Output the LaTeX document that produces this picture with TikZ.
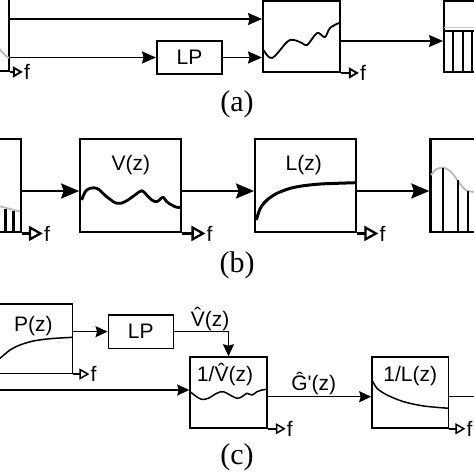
\documentclass[tikz,border=0pt]{standalone}
\usepackage{fontspec}
\setmainfont{Liberation Sans}
\newfontfamily\capfont{Liberation Serif}
\usetikzlibrary{arrows.meta,positioning}

\tikzset{
  blk/.style={draw, line width=1.9pt, inner sep=0pt},
  blkb/.style={draw, line width=2.3pt, inner sep=0pt},
  blkc/.style={draw, line width=1.5pt, inner sep=0pt},
  conn/.style={line width=1.8pt, -{Stealth[length=14pt,width=12pt,inset=1.5pt]}},
  bigconn/.style={line width=2.3pt, -{Stealth[length=18pt,width=15pt,inset=2.5pt]}},
  connc/.style={line width=1.5pt, -{Stealth[length=12pt,width=11pt,inset=1.5pt]}},
  faxis/.style={line width=1.9pt, -{Triangle[open,length=10pt,width=11pt]}},
  faxisb/.style={line width=2.3pt, -{Triangle[open,length=14pt,width=15pt]}},
  faxisc/.style={line width=1.5pt, -{Triangle[open,length=10pt,width=11pt]}},
  lab/.style={font=\fontsize{21}{24}\selectfont, inner sep=1pt},
  flab/.style={font=\fontsize{21}{24}\selectfont, inner sep=1pt},
  caplab/.style={font=\capfont\fontsize{30}{34}\selectfont},
  grayc/.style={gray!55, line width=1.8pt},
  bar/.style={line width=2.3pt}
}

\begin{document}
\begin{tikzpicture}[x=1pt,y=-1pt]
\useasboundingbox (0,0) rectangle (474,474);
\clip (0,0) rectangle (474,474);

% (a)
\node[blk, minimum width=80pt, minimum height=90pt] (a1) at (-31,26) {};
\node[blk, minimum width=77pt, minimum height=71pt] (a2) at (301.5,36.5) {};
\node[blk, minimum width=77pt, minimum height=71pt] (a3) at (482.5,36.5) {};
\node[blk, lab, minimum width=65pt, minimum height=33pt] (lpa) at (189.5,57.5) {LP};

\coordinate (rowa1) at (0,19);
\coordinate (rowa2) at (0,41);
\draw[conn] (a1.east |- rowa1) -- (a2.west |- rowa1);
\draw[conn] (a1.east |- lpa) -- (lpa);
\draw[conn] (lpa) -- (lpa -| a2.west);
\draw[conn] (a2.east |- rowa2) -- (a3.west |- rowa2);

\node[flab, right=13pt of a1.south east] (a1f) {f};
\draw[faxis] (a1.south east) -- (a1f);
\node[flab, right=18pt of a2.south east] (a2f) {f};
\draw[faxis] (a2.south east) -- (a2f);

\draw[grayc] (-4,46) .. controls (3,52) and (5,56) .. (9,58);
\draw[line width=1.8pt] plot[smooth, tension=0.6] coordinates {(263.7,50) (272,58) (287,42) (293.7,40) (302,43) (307,45) (315,35) (318.7,33) (325,37) (330,28) (339,23)};
\draw[gray!45, line width=1pt] (444,27) -- (474,27);
\draw[line width=1.2pt] (444,31) -- (474,31);
\foreach \x in {452.7,462.7,471.7}
  \draw[bar] (\x,31) -- (\x,72);

\node[caplab] (capa) at (237,104) {(a)};

% (b)
\node[blkb, minimum width=101pt, minimum height=93pt] (b1) at (-29.8,185.8) {};
\node[blkb, minimum width=101pt, minimum height=93pt] (bv) at (130.8,185.8) {};
\node[blkb, minimum width=101pt, minimum height=93pt] (bl) at (305.7,185.8) {};
\node[blkb, minimum width=101pt, minimum height=93pt] (b4) at (481,185.8) {};

\coordinate (rowb) at (0,191);
\draw[bigconn] (b1.east |- rowb) -- (bv.west |- rowb);
\draw[bigconn] (bv.east |- rowb) -- (bl.west |- rowb);
\draw[bigconn] (bl.east |- rowb) -- (b4.west |- rowb);

\node[flab, right=21pt of b1.south east] (b1f) {f};
\draw[faxisb] (b1.south east) -- (b1f);
\node[flab, right=23pt of bv.south east] (bvf) {f};
\draw[faxisb] (bv.south east) -- (bvf);
\node[flab, right=21pt of bl.south east] (blf) {f};
\draw[faxisb] (bl.south east) -- (blf);

\node[lab, anchor=base] (vzt) at (130.8,170) {V(z)};
\node[lab, anchor=base] (lzt) at (303.7,170) {L(z)};

\draw[grayc] (-5,205) -- (20,211.5);
\draw[bar] (5.5,208.5) -- (5.5,232);
\draw[bar] (13.5,210.5) -- (13.5,232);
\draw[line width=2.8pt, line join=round] plot[smooth, tension=0.6] coordinates {(81.7,200) (86.7,190) (96.7,188.3) (106.7,196.7) (116.7,203.3) (125,201.7) (135,195) (141.7,190.7) (146.7,195) (151.7,200) (156.7,201.7) (160,199.3) (163.3,197.3) (166.7,201.7) (171.7,205) (176.7,207.3) (181,207.3)};
\draw[line width=3pt] plot[smooth] coordinates {(256.3,220) (260.3,208.3) (267,200) (277,193.3) (290.3,188.3) (303.7,185.7) (320.3,184) (337,183.3) (355.3,182.7)};
\draw[grayc] plot[smooth] coordinates {(431,175) (436,169.5) (443.3,167.5) (450,171) (455,176.7) (460,184) (465,189.5) (470,191.5) (476,192)};
\draw[bar] (443.3,167.7) -- (443.3,233);
\draw[bar] (458.3,180) -- (458.3,233);
\draw[bar] (468.3,190.5) -- (468.3,233);

\node[caplab] (capb) at (237,265.5) {(b)};

% (c)
\node[blkc, minimum width=76.7pt, minimum height=69.3pt] (cp) at (34.35,338.65) {};
\node[blkc, lab, minimum width=65pt, minimum height=33.3pt] (clp) at (140.8,331.65) {LP};
\node[blkc, minimum width=77pt, minimum height=71pt] (cv) at (228.5,392.5) {};
\node[blkc, minimum width=76.7pt, minimum height=71pt] (cl) at (410.3,392.5) {};

\coordinate (cin) at (0,390);
\coordinate (rowc) at (0,396.7);
\coordinate (cout) at (480,396.7);
\draw[connc] (cp.east |- clp) -- (clp);
\draw[connc] (clp) -| (cv.north);
\draw[connc] (cin) -- (cin -| cv.west);
\draw[connc] (cv.east |- rowc) -- (cl.west |- rowc);
\draw[line width=1.5pt] (cl.east |- rowc) -- (cout);

\node[flab, right=16pt of cp.south east] (cpf) {f};
\draw[faxisc] (cp.south east) -- (cpf);
\node[flab, right=18pt of cv.south east] (cvf) {f};
\draw[faxisc] (cv.south east) -- (cvf);
\node[flab, right=16pt of cl.south east] (clf) {f};
\draw[faxisc] (cl.south east) -- (clf);

\node[lab, anchor=base] (pzt) at (33.3,331) {P(z)};
\node[lab, anchor=base] (vht) at (210,326) {\^{V}(z)};
\node[lab, anchor=base] (ivt) at (225,381.7) {1/\^{V}(z)};
\node[lab, anchor=base] (ilt) at (410.3,381.7) {1/L(z)};
\node[lab, anchor=base] (ght) at (313.7,390) {Ĝ\textquotesingle(z)};

\draw[line width=1.5pt] plot[smooth] coordinates {(-4,361) (0,358.3) (10,350) (20,345) (33.3,341) (50,338.7) (72.7,337.3)};
\draw[line width=1.5pt] plot[smooth, tension=0.6] coordinates {(190,391.7) (196.7,396.7) (201.7,399.3) (208.3,398.3) (216.7,393.3) (223.3,391.7) (230,395) (237,398.3) (242,396.7) (247,393.3) (252,395) (257,391.7) (262,390) (267,389.3)};
\draw[line width=1.5pt] plot[smooth] coordinates {(372,380) (377,388.3) (387,395) (403.7,401.7) (423.7,406) (448.7,408.3)};

\node[caplab] (capc) at (237,457.5) {(c)};
\end{tikzpicture}
\end{document}
